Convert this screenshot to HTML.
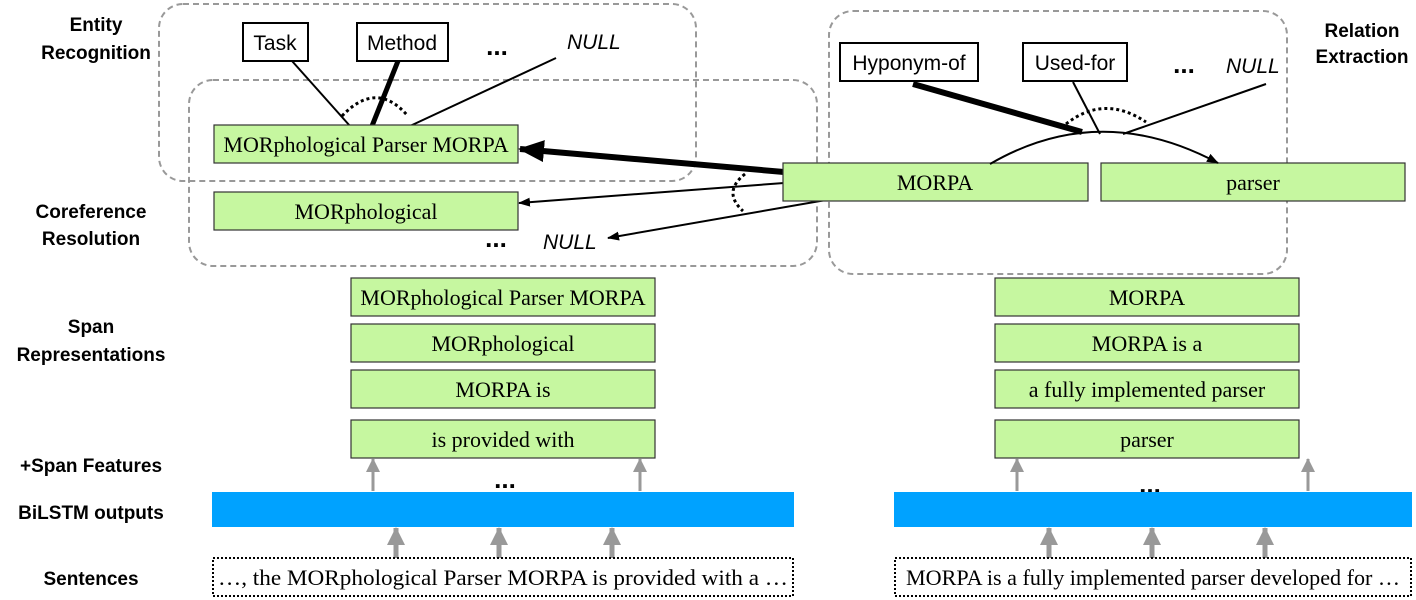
<!DOCTYPE html>
<html><head><meta charset="utf-8"><style>
html,body{margin:0;padding:0;background:#fff;}
svg{display:block;}
.lab{font-family:"Liberation Sans",sans-serif;font-weight:bold;font-size:19px;fill:#000;}
.sf{font-family:"Liberation Serif",serif;font-size:22px;fill:#000;}
.ss{font-family:"Liberation Sans",sans-serif;font-size:21px;fill:#000;}
.it{font-family:"Liberation Sans",sans-serif;font-style:italic;font-size:21px;fill:#000;}
.g{fill:#c6f7a0;stroke:#333;stroke-width:1.2;}
.w{fill:#fff;stroke:#000;stroke-width:2;}
.dash{fill:none;stroke:#999;stroke-width:2;stroke-dasharray:6,4;}
.dots{font-family:"Liberation Sans",sans-serif;font-weight:bold;font-size:26px;}
</style></head><body>
<svg width="1416" height="600" viewBox="0 0 1416 600" xmlns="http://www.w3.org/2000/svg">
<defs>
<marker id="ah" markerWidth="12" markerHeight="10" refX="11" refY="5" orient="auto" markerUnits="userSpaceOnUse"><path d="M0,0.5 L12,5 L0,9.5 Z" fill="#000"/></marker>
<marker id="ahb" markerWidth="26" markerHeight="22" refX="24" refY="11" orient="auto" markerUnits="userSpaceOnUse"><path d="M0,0 L26,11 L0,22 Z" fill="#000"/></marker>
<marker id="gah" markerWidth="14" markerHeight="14" refX="13" refY="7" orient="auto" markerUnits="userSpaceOnUse"><path d="M0,0 L14,7 L0,14 Z" fill="#999"/></marker>
<marker id="gahb" markerWidth="18" markerHeight="18" refX="17" refY="9" orient="auto" markerUnits="userSpaceOnUse"><path d="M0,0 L18,9 L0,18 Z" fill="#999"/></marker>
</defs>

<text class="lab" x="96" y="31" text-anchor="middle">Entity</text>
<text class="lab" x="96" y="59" text-anchor="middle">Recognition</text>
<text class="lab" x="91" y="218" text-anchor="middle">Coreference</text>
<text class="lab" x="91" y="245" text-anchor="middle">Resolution</text>
<text class="lab" x="91" y="333" text-anchor="middle">Span</text>
<text class="lab" x="91" y="361" text-anchor="middle">Representations</text>
<text class="lab" x="91" y="472" text-anchor="middle">+Span Features</text>
<text class="lab" x="91" y="519" text-anchor="middle">BiLSTM outputs</text>
<text class="lab" x="91" y="585" text-anchor="middle">Sentences</text>
<text class="lab" x="1362" y="37" text-anchor="middle">Relation</text>
<text class="lab" x="1362" y="63" text-anchor="middle">Extraction</text>

<rect class="dash" x="159" y="4" width="537" height="177" rx="24"/>
<rect class="dash" x="189" y="80" width="628" height="186" rx="24"/>
<rect class="dash" x="829" y="11" width="458" height="263" rx="24"/>

<rect class="w" x="243" y="23" width="65" height="38"/>
<text class="ss" x="275" y="50" text-anchor="middle">Task</text>
<rect class="w" x="357" y="23" width="91" height="38"/>
<text class="ss" x="402" y="50" text-anchor="middle">Method</text>
<text class="dots" x="497" y="55" text-anchor="middle">...</text>
<text class="it" x="567" y="49">NULL</text>
<line x1="292" y1="61" x2="350" y2="126" stroke="#000" stroke-width="2"/>
<line x1="398" y1="61" x2="372" y2="126" stroke="#000" stroke-width="5"/>
<line x1="556" y1="58" x2="410" y2="126" stroke="#000" stroke-width="2"/>
<path d="M342,116 Q376,80 407,115" fill="none" stroke="#000" stroke-width="3" stroke-dasharray="3,3"/>
<rect class="g" x="214" y="125" width="304" height="38"/>
<text class="sf" x="366" y="152" text-anchor="middle">MORphological Parser MORPA</text>

<rect class="g" x="214" y="192" width="304" height="38"/>
<text class="sf" x="366" y="219" text-anchor="middle">MORphological</text>
<text class="dots" x="496" y="247" text-anchor="middle">...</text>
<text class="it" x="543" y="249">NULL</text>
<line x1="784" y1="172" x2="520" y2="149" stroke="#000" stroke-width="6" marker-end="url(#ahb)"/>
<line x1="784" y1="183" x2="519" y2="203" stroke="#000" stroke-width="2" marker-end="url(#ah)"/>
<line x1="826" y1="200" x2="608" y2="238" stroke="#000" stroke-width="2" marker-end="url(#ah)"/>
<path d="M745,174 Q722,192 743,211" fill="none" stroke="#000" stroke-width="3" stroke-dasharray="3,3"/>

<rect class="g" x="783" y="163" width="305" height="38"/>
<text class="sf" x="935" y="190" text-anchor="middle">MORPA</text>
<rect class="g" x="1101" y="163" width="304" height="38"/>
<text class="sf" x="1253" y="190" text-anchor="middle">parser</text>
<rect class="w" x="840" y="43" width="138" height="38"/>
<text class="ss" x="909" y="70" text-anchor="middle">Hyponym-of</text>
<rect class="w" x="1023" y="43" width="104" height="38"/>
<text class="ss" x="1075" y="70" text-anchor="middle">Used-for</text>
<text class="dots" x="1184" y="73" text-anchor="middle">...</text>
<text class="it" x="1226" y="73">NULL</text>
<path d="M990,164 Q1100,100 1218,163" fill="none" stroke="#000" stroke-width="2" marker-end="url(#ah)"/>
<line x1="913" y1="84" x2="1082" y2="132" stroke="#000" stroke-width="6"/>
<line x1="1073" y1="82" x2="1100" y2="134" stroke="#000" stroke-width="2"/>
<line x1="1266" y1="84" x2="1123" y2="134" stroke="#000" stroke-width="2"/>
<path d="M1066,124 Q1104,94 1146,122" fill="none" stroke="#000" stroke-width="3" stroke-dasharray="3,3"/>

<rect class="g" x="351" y="278" width="304" height="38"/><text class="sf" x="503" y="305" text-anchor="middle">MORphological Parser MORPA</text>
<rect class="g" x="351" y="324" width="304" height="38"/><text class="sf" x="503" y="351" text-anchor="middle">MORphological</text>
<rect class="g" x="351" y="370" width="304" height="38"/><text class="sf" x="503" y="397" text-anchor="middle">MORPA is</text>
<rect class="g" x="351" y="420" width="304" height="38"/><text class="sf" x="503" y="447" text-anchor="middle">is provided with</text>
<rect class="g" x="995" y="278" width="304" height="38"/><text class="sf" x="1147" y="305" text-anchor="middle">MORPA</text>
<rect class="g" x="995" y="324" width="304" height="38"/><text class="sf" x="1147" y="351" text-anchor="middle">MORPA is a</text>
<rect class="g" x="995" y="370" width="304" height="38"/><text class="sf" x="1147" y="397" text-anchor="middle">a fully implemented parser</text>
<rect class="g" x="995" y="420" width="304" height="38"/><text class="sf" x="1147" y="447" text-anchor="middle">parser</text>

<g stroke="#999" stroke-width="3">
<line x1="373" y1="491" x2="373" y2="459" marker-end="url(#gah)"/>
<line x1="640" y1="491" x2="640" y2="459" marker-end="url(#gah)"/>
<line x1="1017" y1="491" x2="1017" y2="459" marker-end="url(#gah)"/>
<line x1="1308" y1="491" x2="1308" y2="459" marker-end="url(#gah)"/>
</g>
<text class="dots" x="505" y="488" text-anchor="middle">...</text>
<text class="dots" x="1150" y="493" text-anchor="middle">...</text>

<rect x="212" y="492" width="582" height="35" fill="#00a2ff"/>
<rect x="894" y="492" width="518" height="35" fill="#00a2ff"/>
<g stroke="#999" stroke-width="5">
<line x1="396" y1="562" x2="396" y2="528" marker-end="url(#gahb)"/>
<line x1="499" y1="562" x2="499" y2="528" marker-end="url(#gahb)"/>
<line x1="612" y1="562" x2="612" y2="528" marker-end="url(#gahb)"/>
<line x1="1049" y1="562" x2="1049" y2="528" marker-end="url(#gahb)"/>
<line x1="1152" y1="562" x2="1152" y2="528" marker-end="url(#gahb)"/>
<line x1="1265" y1="562" x2="1265" y2="528" marker-end="url(#gahb)"/>
</g>

<rect x="213" y="558" width="580" height="38" fill="#fff" stroke="#000" stroke-width="2" stroke-dasharray="2,2"/>
<text class="sf" x="218" y="585" textLength="570" lengthAdjust="spacingAndGlyphs">…, the MORphological Parser MORPA is provided with a …</text>
<rect x="895" y="558" width="516" height="38" fill="#fff" stroke="#000" stroke-width="2" stroke-dasharray="2,2"/>
<text class="sf" x="906" y="585" textLength="494" lengthAdjust="spacingAndGlyphs">MORPA is a fully implemented parser developed for …</text>
</svg>
</body></html>
